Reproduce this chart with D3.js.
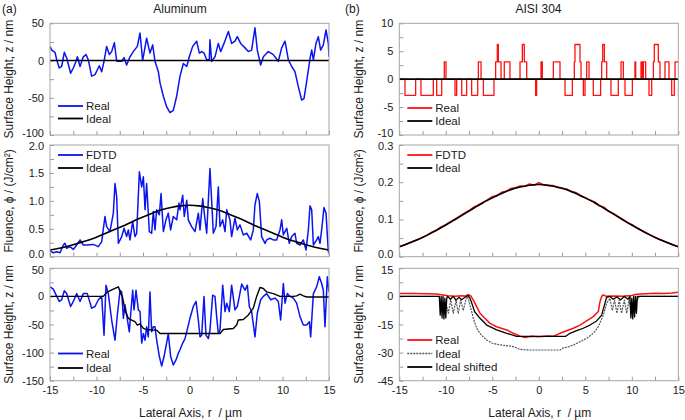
<!DOCTYPE html>
<html>
<head>
<meta charset="utf-8">
<script src="https://cdn.jsdelivr.net/npm/d3@7"></script>
<style>
  body { margin: 0; background: #fff; }
  svg text { font-family: "Liberation Sans", Arial, sans-serif; fill: #1a1a1a; }
</style>
</head>
<body>
<svg id="chart" width="685" height="420"></svg>
<script>
// ---- axes ----
const xLabelTicks = [-15, -10, -5, 0, 5, 10, 15];
const xMinorTicks = [-12.5, -7.5, -2.5, 2.5, 7.5, 12.5];

// ---- (a) Aluminum: surface before ----
const alSurfR = [-15, -14.82, -14.46, -14.28, -14, -13.75, -13.46, -13.2, -12.78, -12.49, -12.2, -12.06, -11.77, -11.42, -11.13, -10.88, -10.52, -10.16, -9.7, -9.44, -9.19, -8.91, -8.62, -8.37, -8.08, -7.83, -7.29, -7.04, -6.76, -6.4, -6.04, -5.61, -5.32, -5.04, -4.61, -4.25, -3.96, -3.71, -3.35, -3.17, -2.81, -2.46, -2.1, -1.74, -1.38, -1.02, -0.66, -0.3, -0.02, 0.34, 0.77, 1.06, 1.31, 1.56, 1.85, 2.13, 2.2, 2.38, 2.74, 3.1, 3.35, 3.71, 4.18, 4.53, 4.89, 5.14, 5.5, 5.97, 6.33, 6.68, 7.04, 7.29, 7.65, 7.94, 8.48, 9.01, 9.55, 9.91, 10.27, 10.63, 10.99, 11.34, 11.7, 12.06, 12.31, 12.6, 12.96, 13.14, 13.32, 13.6, 13.85, 14.1, 14.39, 14.68, 14.93, 15];
const alSurfZ = [19, 14, 11, 1, -10, -8, 11, 3, -17, -10, -1, 5, -8, 5, 8, 1, -21, -19, -7, -15, -1, 19, 8, 12, 24, -1, -1, 4, -6, 5, 12, 19, 37, 0, 30, 10, 21, -1, -15, -30, -48, -62, -70, -67, -48, -21, -4, -8, 5, 19, 26, 10, 12, 10, 1, 1, 28, -1, 5, 23, 12, 23, 39, 23, 26, 32, 23, 17, 12, 14, 44, 14, -6, 5, 12, 8, -1, 17, 26, 1, -8, -15, -35, -53, -51, -28, 3, 14, 1, 23, 32, 14, 21, 41, 23, 5];

// ---- (a) Aluminum: fluence ----
const alFdtdR = [-15, -14.64, -14.28, -13.92, -13.57, -13.39, -13.21, -12.85, -12.49, -12.13, -11.77, -11.42, -11.06, -10.34, -9.8, -9.44, -9.09, -8.91, -8.55, -8.19, -8.01, -7.83, -7.65, -7.29, -7.04, -6.76, -6.58, -6.4, -6.11, -5.86, -5.68, -5.39, -5.14, -4.96, -4.78, -4.61, -4.32, -4.07, -3.89, -3.71, -3.53, -3.24, -3.06, -2.81, -2.53, -2.28, -2.03, -1.74, -1.38, -1.13, -1.02, -0.73, -0.56, -0.3, -0.13, 0.23, 0.59, 0.95, 1.13, 1.42, 1.63, 1.85, 2.2, 2.38, 2.56, 2.85, 3.1, 3.28, 3.57, 3.82, 4.0, 4.35, 4.53, 4.89, 5.14, 5.43, 5.79, 6.15, 6.58, 6.86, 7.04, 7.29, 7.51, 7.76, 8.12, 8.3, 8.66, 9.01, 9.37, 9.73, 9.91, 10.09, 10.45, 10.73, 10.99, 11.34, 11.52, 11.88, 12.24, 12.53, 12.78, 12.96, 13.14, 13.32, 13.67, 13.85, 14.03, 14.21, 14.46, 14.68, 14.93, 15];
const alFdtdPhi = [0.11, 0.07, 0.09, 0.07, 0.21, 0.24, 0.15, 0.18, 0.13, 0.21, 0.30, 0.21, 0.21, 0.22, 0.18, 0.27, 0.72, 0.54, 0.45, 0.78, 1.31, 1.07, 0.24, 0.36, 0.51, 0.36, 0.48, 0.30, 0.63, 0.36, 0.42, 1.52, 1.25, 1.43, 0.84, 1.31, 0.45, 0.42, 0.81, 0.48, 0.84, 0.75, 1.13, 0.45, 0.66, 0.78, 0.48, 0.72, 0.66, 0.96, 0.84, 1.10, 0.72, 1.01, 0.66, 0.54, 0.45, 0.78, 0.48, 1.04, 0.72, 0.42, 1.58, 1.01, 0.42, 0.54, 1.25, 0.54, 0.66, 0.45, 0.84, 0.66, 0.36, 0.69, 0.48, 0.57, 0.39, 0.42, 0.30, 0.48, 0.93, 1.13, 0.99, 0.36, 0.24, 0.30, 0.33, 0.30, 0.30, 0.48, 0.66, 0.39, 0.51, 0.24, 0.36, 0.42, 0.24, 0.21, 0.30, 0.12, 0.48, 0.91, 0.84, 0.21, 0.30, 0.36, 0.24, 0.48, 0.88, 0.78, 0.09, 0.06];
const fluR = [-15, -14, -13, -12, -11, -10, -9, -8, -7, -6, -5, -4, -3, -2, -1, 0, 1, 2, 3, 4, 5, 6, 7, 8, 9, 10, 11, 12, 13, 14, 15];
const alIdealPhi = [0.12, 0.15, 0.19, 0.24, 0.29, 0.35, 0.42, 0.49, 0.56, 0.64, 0.71, 0.78, 0.84, 0.88, 0.91, 0.92, 0.91, 0.88, 0.84, 0.78, 0.71, 0.64, 0.56, 0.49, 0.42, 0.35, 0.29, 0.24, 0.19, 0.15, 0.12];

// ---- (a) Aluminum: surface after ----
const alCraterR = [-15, -14.64, -14.28, -14, -13.75, -13.46, -13.21, -12.78, -12.49, -12.13, -11.77, -11.42, -10.99, -10.52, -10.16, -9.8, -9.44, -9.19, -8.98, -8.73, -8.37, -8.01, -7.76, -7.47, -7.29, -7.11, -6.94, -6.76, -6.47, -6.33, -6.11, -5.97, -5.75, -5.5, -5.32, -5.14, -4.96, -4.78, -4.61, -4.43, -4.25, -4.07, -3.89, -3.71, -3.53, -3.24, -2.99, -2.74, -2.46, -2.28, -2.03, -1.74, -1.45, -1.2, -1.02, -0.73, -0.48, -0.3, 0.05, 0.41, 0.7, 0.95, 1.13, 1.31, 1.56, 1.77, 2.03, 2.2, 2.49, 2.74, 2.92, 3.1, 3.28, 3.57, 3.82, 4.0, 4.28, 4.53, 4.89, 5.14, 5.36, 5.61, 5.97, 6.22, 6.43, 6.68, 7.04, 7.29, 7.65, 7.94, 8.3, 8.73, 9.19, 9.55, 9.8, 10.09, 10.27, 10.52, 10.81, 11.16, 11.52, 11.88, 12.24, 12.6, 12.89, 13.03, 13.32, 13.67, 13.96, 14.21, 14.39, 14.57, 14.82, 15];
const alCraterZ = [17, 13, 0, -9, -6, 10, 5, -18, -9, 5, -9, 5, 5, -21, -18, -6, 0, -69, 20, 5, -42, -78, -33, 11, 8, -39, -15, -33, -63, -33, 11, -24, 11, -24, -27, -83, -66, -78, -54, -72, 8, -63, -54, -54, -78, -107, -124, -107, -83, -66, -107, -122, -113, -101, -95, -83, -75, -63, -39, -18, -9, -42, -72, -69, 0, -69, -75, -60, 2, 0, -36, -66, -60, 20, -27, -12, -27, 20, -24, -18, 0, 22, 11, 20, -18, -27, -72, -30, -6, 0, 5, -6, -3, -9, -42, 23, -12, 5, 0, -3, -12, -36, -51, -51, -45, -72, 5, 17, 35, 23, 11, -54, 35, 8];
const alIdealR = [-15, -9.27, -8.91, -8.19, -7.65, -7.4, -7.22, -6.94, -6.58, -6.22, -5.86, -5.61, -5.32, -4.96, -4.61, -3.89, -3.53, -3.17, 3.28, 3.64, 4.71, 5.07, 5.25, 5.79, 6.33, 6.86, 7.22, 7.58, 7.94, 8.3, 9.01, 9.73, 11.16, 11.52, 11.88, 12.24, 12.6, 15];
const alIdealZ = [0, 0, 7, 13, 17, 5, 0, -24, -39, -42, -45, -51, -49, -57, -59, -60, -60, -66, -66, -59, -57, -51, -42, -41, -33, -21, 0, 16, 14, 8, 5, 0, 0, 1, 4, 1, -1, -1];

// ---- (b) AISI 304: surface before (quantised steps) ----
const ssStepR = [-15, -14.39, -13.24, -12.67, -11.34, -10.98, -10.44, -10.16, -9.98, -9.01, -8.83, -8.29, -7.76, -7.22, -6.57, -6.5, -6.21, -5.96, -4.82, -4.64, -4.46, -4.35, -4.06, -3.71, -3.1, -2.02, -1.77, -1.56, -1.3, -0.34, -0.23, 0.24, 0.38, 1.56, 2.28, 2.82, 3.61, 3.82, 3.89, 4.43, 4.54, 4.79, 4.97, 5.15, 5.4, 5.86, 6.65, 6.76, 6.87, 7.05, 7.3, 7.76, 8.55, 8.84, 9.09, 9.27, 10.06, 10.34, 10.42, 10.99, 11.13, 11.24, 11.49, 11.85, 12.14, 12.32, 12.42, 12.85, 13.03, 13.57, 14.0, 14.29, 14.57, 14.65, 15];
const ssStepZ = [0, -2.9, 0, -2.9, 0, -2.9, 0, 3.1, 0, -2.9, 0, -2.9, 0, -2.9, 0, 3.1, 0, -2.9, 0, 3.1, 6.2, 3.1, 0, 3.1, 0, 3.1, 6.2, 3.1, 0, -2.9, 0, 3.1, 0, 3.1, 0, -2.9, 0, 3.1, 6.2, 3.1, 0, -2.9, 0, 3.1, 0, -2.9, 0, 3.1, 6.2, 3.1, 0, -2.9, 0, 3.1, 0, -2.9, 0, 3.1, 0, 3.1, 0, 3.1, 0, -2.9, 0, 3.1, 6.2, 3.1, 0, 3.1, 0, -2.9, 0, 3.1, 3.1];

// ---- (b) AISI 304: fluence ----
const ssFdtdR = [-15, -14.5, -14, -13.5, -13, -12.5, -12, -11.5, -11, -10.5, -10, -9.5, -9, -8.5, -8, -7.5, -7, -6.5, -6, -5.5, -5, -4.5, -4, -3.5, -3, -2.5, -2, -1.5, -1, -0.5, 0, 0.5, 1, 1.5, 2, 2.5, 3, 3.5, 4, 4.5, 5, 5.5, 6, 6.5, 7, 7.5, 8, 8.5, 9, 9.5, 10, 10.5, 11, 11.5, 12, 12.5, 13, 13.5, 14, 14.5, 15];
const ssFdtdPhi = [0.027, 0.031, 0.036, 0.041, 0.046, 0.052, 0.058, 0.066, 0.071, 0.080, 0.086, 0.094, 0.101, 0.109, 0.117, 0.124, 0.133, 0.139, 0.146, 0.153, 0.161, 0.164, 0.173, 0.176, 0.183, 0.185, 0.190, 0.189, 0.195, 0.192, 0.199, 0.193, 0.191, 0.191, 0.186, 0.183, 0.182, 0.174, 0.172, 0.163, 0.158, 0.152, 0.147, 0.137, 0.133, 0.122, 0.116, 0.108, 0.100, 0.092, 0.086, 0.078, 0.071, 0.064, 0.058, 0.052, 0.046, 0.041, 0.036, 0.031, 0.027];
const ssIdealPhi = [0.027, 0.036, 0.046, 0.058, 0.071, 0.085, 0.100, 0.115, 0.130, 0.145, 0.158, 0.170, 0.180, 0.187, 0.192, 0.194, 0.192, 0.187, 0.180, 0.170, 0.158, 0.145, 0.130, 0.115, 0.100, 0.085, 0.071, 0.058, 0.046, 0.036, 0.027];

// ---- (b) AISI 304: surface after ----
const ssRealR = [-15, -13.5, -12, -11, -10.3, -9.8, -9, -8.3, -7.9, -7.6, -7.3, -7.04, -6.68, -6.32, -5.79, -5.25, -4.53, -3.45, -2.74, -2.02, -1.48, -0.8, 0, 1, 1.6, 2.28, 3.0, 3.71, 4.43, 5.14, 5.86, 6.4, 6.58, 6.76, 6.94, 7.2, 8, 9, 10, 10.5, 11.5, 12.5, 13.5, 14.3, 15];
const ssRealZ = [1.6, 1.5, 1.4, 1.3, 0.8, 0.3, 0.1, 0.3, 0.2, 0.9, 0.2, -2, -5.5, -9, -11.7, -14.4, -16.2, -17.9, -19.7, -21.2, -22, -21.3, -21.6, -21.2, -21.3, -19.7, -18.3, -17, -15.3, -13.1, -10.8, -8.1, -2.8, 0, 0.8, 0.1, 0.2, 0.1, 0.5, 1.1, 1.4, 1.7, 1.6, 1.8, 2.2];
const ssIdealR = [-15, -10.7, -10.5, -10.3, -10.0, -9.73, -9.47, -9.19, -8.9, -8.66, -8.4, -8.12, -7.83, -7.65, -7.4, -7.04, -6.68, -6.2, -5.6, -5.0, -4.2, -3.4, -2.74, -2.03, -1, 2.3, 2.63, 3.0, 3.71, 4.43, 5.14, 5.86, 6.4, 6.94, 7.29, 7.65, 7.9, 8.15, 8.4, 8.65, 8.9, 9.2, 9.45, 9.7, 10.0, 10.3, 10.6, 10.8, 15];
const ssIdealZ = [0, 0, -6, -8.5, -3, -9, -2, -9, -2, -9, -2, -7.5, -1.5, 0, -4.6, -11.7, -17, -20.6, -23.3, -25, -25.9, -26.3, -26.8, -28.3, -28.6, -28.6, -27.5, -27.2, -26, -24.2, -22.4, -19.7, -16.2, -10, -3.7, -1, -7.5, -2, -9, -2, -9, -2, -9, -2, -9, -6, -2, 0, 0];
const ssShiftR = [-15, -10.7, -10.6, -10.5, -10.4, -10.3, -10.2, -10.1, -10.0, -9.9, -9.8, -9.5, -9.2, -8.9, -8.6, -8.3, -7.9, -7.6, -7.4, -7.2, -6.9, -6.32, -5.6, -4.53, -3.45, -2.38, 2.9, 3.35, 4.07, 4.78, 5.5, 6.22, 6.76, 7.11, 7.29, 7.65, 8.0, 8.4, 8.8, 9.2, 9.6, 9.8, 9.9, 10.0, 10.1, 10.2, 10.3, 10.4, 10.5, 10.6, 15];
const ssShiftZ = [0, 0, -10, 0, -11.5, 0, -12, -1, -11.5, -1, 0, -1.5, 0, -2, -0.5, -1.8, -0.3, 0.5, -1, -3.7, -8.2, -11.7, -15.3, -17.9, -19.7, -21.3, -21.3, -19.7, -18.3, -17, -15.3, -13.1, -10, -3.7, -0.5, 0, -1.5, -0.3, -1.8, 0, -1.5, 0, -11.5, -1, -12, 0, -11, 0, -9, 0, 0];

const zeroR = [-15, 15];
const zeroZ = [0, 0];

const BLUE = "#0a14f0", RED = "#ff1010", BLACK = "#000";

const svg = d3.select("#chart");
const colL = [50, 329], colR = [399.3, 678.3];
const rows = [[23.3, 135], [145, 256.7], [268.3, 380.7]];
let clipId = 0;

function zip(xs, ys) {
  return xs.map((x, i) => [x, ys[i]]);
}

function panel(o) {
  const x = d3.scaleLinear().domain([-15, 15]).range(o.col);
  const y = d3.scaleLinear().domain(o.yDomain).range([o.row[1], o.row[0]]);
  const g = svg.append("g");
  const id = "clip" + clipId++;
  const yMin = o.yDomain[0], yMax = o.yDomain[1];

  svg.append("clipPath").attr("id", id)
    .append("rect")
    .attr("x", o.col[0]).attr("y", o.row[0])
    .attr("width", o.col[1] - o.col[0]).attr("height", o.row[1] - o.row[0]);

  // x ticks (inward)
  g.append("g")
    .attr("transform", `translate(0, ${o.row[1]})`)
    .call(d3.axisBottom(x).tickValues(xLabelTicks.concat(xMinorTicks))
      .tickSize(-4).tickSizeOuter(0).tickPadding(6)
      .tickFormat((d) => (o.xLabels && xLabelTicks.includes(d) ? String(d) : "")))
    .call((a) => a.select(".domain").remove())
    .call((a) => a.selectAll("line").attr("stroke", "#999"))
    .call((a) => a.selectAll("text").attr("font-size", 11).attr("fill", "#1a1a1a")
      .attr("font-family", "Liberation Sans, Arial, sans-serif"));

  // y ticks (inward); edge labels nudged so stacked panels don't collide
  g.append("g")
    .attr("transform", `translate(${o.col[0]}, 0)`)
    .call(d3.axisLeft(y).tickValues(o.yTicks.concat(o.yMinor))
      .tickSize(-4).tickSizeOuter(0).tickPadding(6)
      .tickFormat((d) => (o.yTicks.includes(d) ? o.fmt(d) : "")))
    .call((a) => a.select(".domain").remove())
    .call((a) => a.selectAll("line").attr("stroke", "#999"))
    .call((a) => a.selectAll("text").attr("font-size", 11).attr("fill", "#1a1a1a")
      .attr("font-family", "Liberation Sans, Arial, sans-serif")
      .attr("dy", (d) => (d === yMin && !o.xLabels ? "0.1em" : d === yMax && o.row[0] > 30 ? "0.45em" : "0.32em")));

  const plot = g.append("g").attr("clip-path", `url(#${id})`);
  o.series.forEach((s) => {
    const line = d3.line()
      .x((d) => x(d[0]))
      .y((d) => y(d[1]))
      .curve(s.curve || d3.curveLinear);
    plot.append("path")
      .datum(zip(s.r, s.v))
      .attr("fill", "none")
      .attr("stroke", s.color)
      .attr("stroke-width", s.width || 1.5)
      .attr("stroke-dasharray", s.dash || null)
      .attr("stroke-linejoin", "round")
      .attr("d", line);
  });

  // frame
  g.append("rect")
    .attr("x", o.col[0]).attr("y", o.row[0])
    .attr("width", o.col[1] - o.col[0]).attr("height", o.row[1] - o.row[0])
    .attr("fill", "none").attr("stroke", "#a6a6a6").attr("stroke-width", 1);

  // legend
  const lx = o.col[0] + 8;
  o.legend.items.forEach((it, i) => {
    const ly = o.legend.y + i * o.legend.dy;
    g.append("line")
      .attr("x1", lx).attr("x2", lx + 25).attr("y1", ly).attr("y2", ly)
      .attr("stroke", it.color).attr("stroke-width", it.width || 1.8)
      .attr("stroke-dasharray", it.dash || null);
    g.append("text")
      .attr("x", lx + 28).attr("y", ly).attr("dy", "0.36em")
      .attr("font-size", 11.5).text(it.label);
  });

  // y title
  const cy = (o.row[0] + o.row[1]) / 2;
  g.append("text")
    .attr("transform", `translate(${o.col[0] - 41}, ${cy}) rotate(-90)`)
    .attr("text-anchor", "middle").attr("dy", "0.35em")
    .attr("font-size", 12).text(o.yTitle);

  if (o.xLabels) {
    g.append("text")
      .attr("x", (o.col[0] + o.col[1]) / 2 + 1).attr("y", 417)
      .attr("text-anchor", "middle").attr("font-size", 12)
      .text("Lateral Axis, r \u00a0/ µm");
  }
}

const f0 = (d) => String(d);
const f1 = (d) => d.toFixed(1);
const surfTitle = "Surface Height, z / nm";
const fluTitle = "Fluence, ϕ / (J/cm²)";

// ---- left column ----
panel({
  col: colL, row: rows[0], yDomain: [-100, 50],
  yTicks: [-100, -50, 0, 50], yMinor: [-75, -25, 25], fmt: f0, yTitle: surfTitle,
  series: [
    { r: alSurfR, v: alSurfZ, color: BLUE, width: 1.5 },
    { r: zeroR, v: zeroZ, color: BLACK, width: 1.6 },
  ],
  legend: { y: 106, dy: 12.5, items: [{ label: "Real", color: BLUE }, { label: "Ideal", color: BLACK }] },
});
panel({
  col: colL, row: rows[1], yDomain: [0, 2],
  yTicks: [0, 0.5, 1, 1.5, 2], yMinor: [0.25, 0.75, 1.25, 1.75], fmt: f1, yTitle: fluTitle,
  series: [
    { r: alFdtdR, v: alFdtdPhi, color: BLUE, width: 1.5 },
    { r: fluR, v: alIdealPhi, color: BLACK, width: 1.6, curve: d3.curveMonotoneX },
  ],
  legend: { y: 155, dy: 13, items: [{ label: "FDTD", color: BLUE }, { label: "Ideal", color: BLACK }] },
});
panel({
  col: colL, row: rows[2], yDomain: [-150, 50], xLabels: true,
  yTicks: [-150, -100, -50, 0, 50], yMinor: [-125, -75, -25, 25], fmt: f0, yTitle: surfTitle,
  series: [
    { r: alCraterR, v: alCraterZ, color: BLUE, width: 1.5 },
    { r: alIdealR, v: alIdealZ, color: BLACK, width: 1.4 },
  ],
  legend: { y: 353.5, dy: 14.5, items: [{ label: "Real", color: BLUE }, { label: "Ideal", color: BLACK }] },
});

// ---- right column ----
panel({
  col: colR, row: rows[0], yDomain: [-10, 10],
  yTicks: [-10, -5, 0, 5, 10], yMinor: [-7.5, -2.5, 2.5, 7.5], fmt: f0, yTitle: surfTitle,
  series: [
    { r: ssStepR, v: ssStepZ, color: RED, width: 1.3, curve: d3.curveStepAfter },
    { r: zeroR, v: zeroZ, color: BLACK, width: 1.6 },
  ],
  legend: { y: 108, dy: 13, items: [{ label: "Real", color: RED }, { label: "Ideal", color: BLACK }] },
});
panel({
  col: colR, row: rows[1], yDomain: [0, 0.3],
  yTicks: [0, 0.1, 0.2, 0.3], yMinor: [0.05, 0.15, 0.25], fmt: f1, yTitle: fluTitle,
  series: [
    { r: ssFdtdR, v: ssFdtdPhi, color: RED, width: 1.6 },
    { r: fluR, v: ssIdealPhi, color: BLACK, width: 1.6, curve: d3.curveMonotoneX },
  ],
  legend: { y: 155, dy: 13, items: [{ label: "FDTD", color: RED }, { label: "Ideal", color: BLACK }] },
});
panel({
  col: colR, row: rows[2], yDomain: [-45, 15], xLabels: true,
  yTicks: [-45, -30, -15, 0, 15], yMinor: [-37.5, -22.5, -7.5, 7.5], fmt: f0, yTitle: surfTitle,
  series: [
    { r: ssRealR, v: ssRealZ, color: RED, width: 1.5 },
    { r: ssIdealR, v: ssIdealZ, color: "#555", width: 1.2, dash: "2,1" },
    { r: ssShiftR, v: ssShiftZ, color: BLACK, width: 1.3 },
  ],
  legend: {
    y: 340, dy: 13.5,
    items: [
      { label: "Real", color: RED },
      { label: "Ideal", color: "#555", dash: "2,1", width: 1.4 },
      { label: "Ideal shifted", color: BLACK },
    ],
  },
});

// ---- headings ----
const heads = [
  { x: 2, text: "(a)", anchor: "start" },
  { x: 180, text: "Aluminum", anchor: "middle" },
  { x: 345, text: "(b)", anchor: "start" },
  { x: 538.5, text: "AISI 304", anchor: "middle" },
];
svg.selectAll("text.head")
  .data(heads)
  .join("text")
  .attr("class", "head")
  .attr("x", (d) => d.x).attr("y", 12.5)
  .attr("text-anchor", (d) => d.anchor)
  .attr("font-size", 12)
  .text((d) => d.text);
</script>
</body>
</html>
